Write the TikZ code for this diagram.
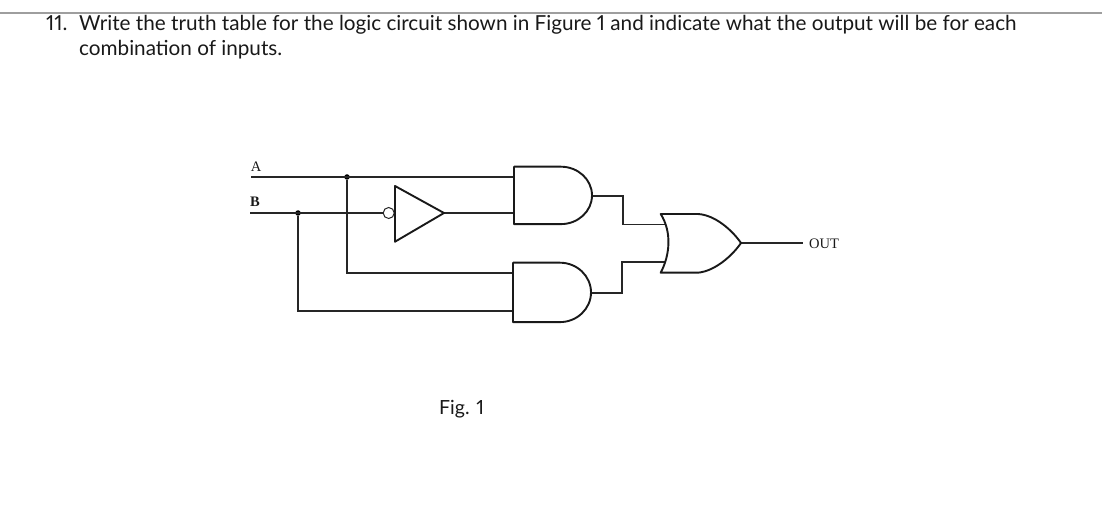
\documentclass[tikz,border=0pt]{standalone}
\usepackage{fontspec}
\setmainfont[Numbers=Proportional]{Lato}
\newfontfamily\figfont{Liberation Serif}
\begin{document}
\begin{tikzpicture}[x=1pt,y=-1pt,
  wire/.style={line width=1.3pt,black!85},
  gate/.style={line width=1.9pt,black!90,line join=round},
  dotnode/.style={circle,fill=black,inner sep=0pt,minimum size=5.5pt},
  bubble/.style={circle,draw=black!85,fill=white,line width=1pt,inner sep=0pt,minimum size=11pt},
  qtext/.style={anchor=base west,inner sep=0pt,font=\fontsize{20.7}{24}\selectfont,text=black!90},
  lab/.style={inner sep=0pt,font=\figfont\fontsize{14.5}{16}\selectfont,text=black!90}]
\useasboundingbox (0,0) rectangle (1102,526);
\draw[line width=1.6pt,black!38] (0,13) -- (1102,13);
\node[qtext] (q1) at (46,31) {11.};
\node[qtext] (q2) at (79,31) {Write the truth table for the logic circuit shown in Figure 1 and indicate what the output will be for each};
\node[qtext] (q3) at (79,56) {combination of inputs.};
\node[qtext,font=\fontsize{19.5}{24}\selectfont] (fig) at (439,414) {Fig. 1};
% ports
\coordinate (Ain) at (251,177);
\coordinate (Bin) at (250,213);
\coordinate (a1) at (514,177);
\coordinate (b1) at (514,213);
\coordinate (a2) at (513,273);
\coordinate (b2) at (513,311);
\coordinate (o1) at (592,196);
\coordinate (o2) at (591,293);
\coordinate (r1) at (666,224.5);
\coordinate (r2) at (665,262);
\coordinate (out) at (741,243);
\coordinate (outend) at (803,243);
\coordinate (tip) at (444,213);
\node[dotnode] (ja) at (347,177) {};
\node[dotnode] (jb) at (298,213) {};
\node[bubble] (bub) at (388.7,213) {};
\node[lab] (la) at (256,167) {A};
\node[lab] (lb) at (255,202) {\textbf{B}};
\node[lab,anchor=west] (lo) at (809,244) {OUT};
% wires
\draw[wire] (Ain) -- (a1);
\draw[wire] (Bin) -- (bub);
\draw[wire] (tip) -- (b1);
\draw[wire] (ja) |- (a2);
\draw[wire] (jb) |- (b2);
\draw[wire] (o1) -- (623,196) |- (r1);
\draw[wire] (o2) -- (622,293) |- (r2);
\draw[wire] (out) -- (outend);
% gates
\draw[gate] (395,186) -- (444,213) -- (395,241.7) -- cycle;
\draw[gate] (514,166.7) -- (561,166.7) .. controls (578,166.7) and (592,179.5) .. (592,195.4) .. controls (592,211.3) and (578,224.1) .. (561,224.1) -- (514,224.1) -- cycle;
\draw[gate] (513,262.7) -- (560,262.7) .. controls (577,262.7) and (591,276) .. (591,292.4) .. controls (591,308.8) and (577,322.1) .. (560,322.1) -- (513,322.1) -- cycle;
\draw[gate] (660.7,214) -- (698,214) .. controls (715,215) and (732,230) .. (741,243) .. controls (732,256) and (715,271) .. (698,272.7) -- (660.7,272.7) .. controls (670,255) and (672,232) .. cycle;
\end{tikzpicture}
\end{document}
